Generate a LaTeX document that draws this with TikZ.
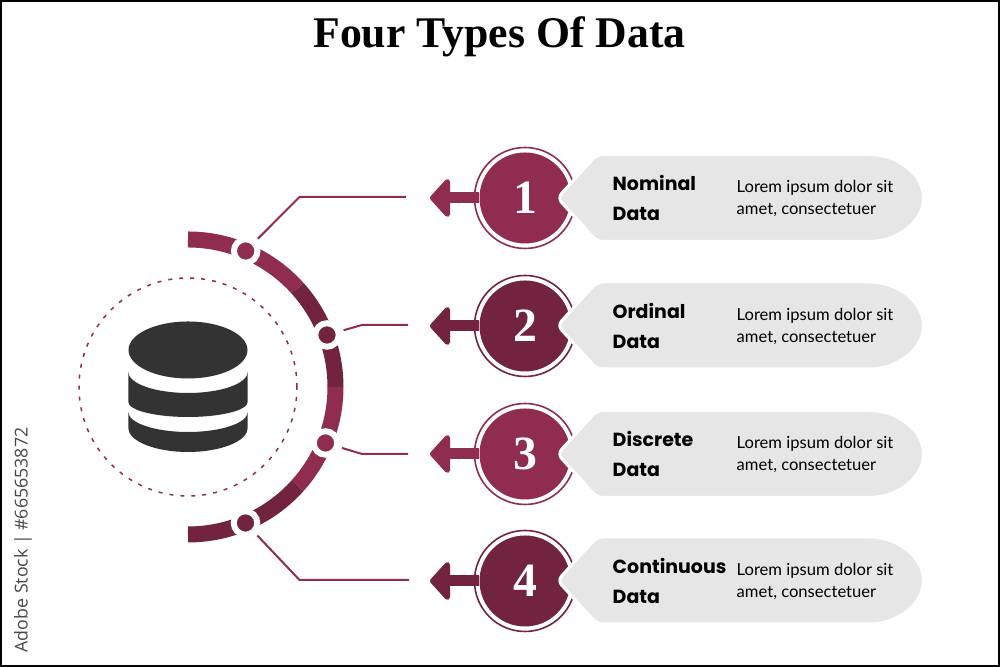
\documentclass[tikz,border=0pt]{standalone}
\usepackage{fontspec}
\setmainfont{Liberation Serif}
\newfontfamily\headfont{Poppins}
\newfontfamily\bodyfont{Lato}
\newfontfamily\markfont{Open Sans}
\usetikzlibrary{arrows.meta}
\definecolor{wine}{HTML}{8F2C50}
\definecolor{plum}{HTML}{722340}
\definecolor{pillgray}{HTML}{E6E6E6}
\definecolor{icongray}{HTML}{333333}
\tikzset{
  hoop/.style={line width=1.6mm,#1},
  lead/.style={line width=0.2mm,line join=miter,#1},
  knob/.style={circle,fill=#1,draw=white,line width=0.6mm,inner sep=0pt,minimum size=2.35mm,outer sep=0.55mm},
  ring/.style={circle,draw=#1,fill=white,line width=0.16mm,inner sep=0pt,minimum size=10.1mm},
  disc/.style={circle,fill=#1,inner sep=0pt,minimum size=9.1mm,text=white,font=\fontsize{13.6}{14}\selectfont\bfseries},
  pointer/.style={draw=#1,line width=1.1mm,-{Triangle[round,length=2.1mm,width=4.5mm,#1]}},
  pill/.style={fill=pillgray,draw=white,line width=0.3mm,rounded corners=0.6mm},
  head/.style={anchor=west,align=left,inner sep=0pt,font=\headfont\bfseries\fontsize{5.4}{8.5}\selectfont},
  body/.style={anchor=west,align=left,inner sep=0pt,font=\bodyfont\fontsize{4.72}{6.3}\selectfont},
  icon/.style={fill=icongray}
}
\newcommand{\Pill}[1]{\path[pill,shift={(0,#1)}] (557.5,0) -- (597,43.5) -- (864,43.5) arc[start angle=90,end angle=-90,x radius=59.5,y radius=43.5] -- (597,-43.5) -- cycle;}
\begin{document}
\begin{tikzpicture}[x=0.1mm,y=0.1mm]
\useasboundingbox (0,0) rectangle (1000,667);
\draw[black,line width=0.15mm] (1,1) rectangle (999,666);

\node[anchor=base,font=\fontsize{12.45}{14}\selectfont\bfseries] (title) at (499.5,619) {Four Types Of Data};
\node[rotate=90,text=black!72,font=\markfont\fontsize{5.05}{6}\selectfont] (stock) at (23,127) {Adobe Stock | \#665653872};

\coordinate (hub) at (188,280);
\draw[dash pattern=on 0.4mm off 0.7mm,wine,line width=0.15mm] (hub) circle[radius=109];

\fill[icon] (188,317) ellipse[x radius=59.5,y radius=28.5];
\fill[icon] (128.3,295) arc[start angle=180,end angle=360,x radius=59.7,y radius=21] -- (247.7,265) arc[start angle=0,end angle=-180,x radius=59.7,y radius=15] -- cycle;
\fill[icon] (128.3,255) arc[start angle=180,end angle=360,x radius=59.7,y radius=20] -- (247.7,239) arc[start angle=0,end angle=-180,x radius=59.7,y radius=24] -- cycle;

\draw[hoop=wine] (hub) ++(90:147.5) arc[start angle=90,end angle=42,radius=147.5];
\draw[hoop=plum] (hub) ++(42:147.5) arc[start angle=42,end angle=0,radius=147.5];
\draw[hoop=wine] (hub) ++(0:147.5) arc[start angle=0,end angle=-42,radius=147.5];
\draw[hoop=plum] (hub) ++(-42:147.5) arc[start angle=-42,end angle=-90,radius=147.5];

\node[knob=wine] (knob1) at (245.7,416) {};
\node[knob=plum] (knob2) at (327,332) {};
\node[knob=wine] (knob3) at (325.5,224) {};
\node[knob=plum] (knob4) at (245.5,144) {};

\coordinate (bend1) at (299.5,470);
\coordinate (end1) at (406,470);
\coordinate (bend2) at (362,342);
\coordinate (end2) at (408,342);
\coordinate (bend3) at (362,213);
\coordinate (end3) at (408,213);
\coordinate (bend4) at (299.5,87);
\coordinate (end4) at (409,87);

\draw[lead=wine] (knob1) -- (bend1) -- (end1);
\draw[lead=wine] (knob2) -- (bend2) -- (end2);
\draw[lead=wine] (knob3) -- (bend3) -- (end3);
\draw[lead=wine] (knob4) -- (bend4) -- (end4);

\node[ring=wine] (ring1) at (525,469) {};
\node[ring=plum] (ring2) at (525,341) {};
\node[ring=wine] (ring3) at (525,213) {};
\node[ring=plum] (ring4) at (525,86) {};

\coordinate (tip1) at (430,469);
\coordinate (tip2) at (430,341);
\coordinate (tip3) at (430,213);
\coordinate (tip4) at (430,86);

\node[disc=wine] (disc1) at (525,469) {1};
\node[disc=plum] (disc2) at (525,341) {2};
\node[disc=wine] (disc3) at (525,213) {3};
\node[disc=plum] (disc4) at (525,86) {4};

\draw[pointer=wine] (disc1) -- (tip1);
\draw[pointer=plum] (disc2) -- (tip2);
\draw[pointer=wine] (disc3) -- (tip3);
\draw[pointer=plum] (disc4) -- (tip4);

\Pill{469}
\Pill{341.5}
\Pill{213}
\Pill{86.5}

\node[head] (kind1) at (612,469) {Nominal\\Data};
\node[head] (kind2) at (612,341) {Ordinal\\Data};
\node[head] (kind3) at (612,213) {Discrete\\Data};
\node[head] (kind4) at (612,86) {Continuous\\Data};

\node[body] (text1) at (736,468.5) {Lorem ipsum dolor sit\\amet, consectetuer};
\node[body] (text2) at (736,340.5) {Lorem ipsum dolor sit\\amet, consectetuer};
\node[body] (text3) at (736,212.5) {Lorem ipsum dolor sit\\amet, consectetuer};
\node[body] (text4) at (736,85.5) {Lorem ipsum dolor sit\\amet, consectetuer};
\end{tikzpicture}
\end{document}
